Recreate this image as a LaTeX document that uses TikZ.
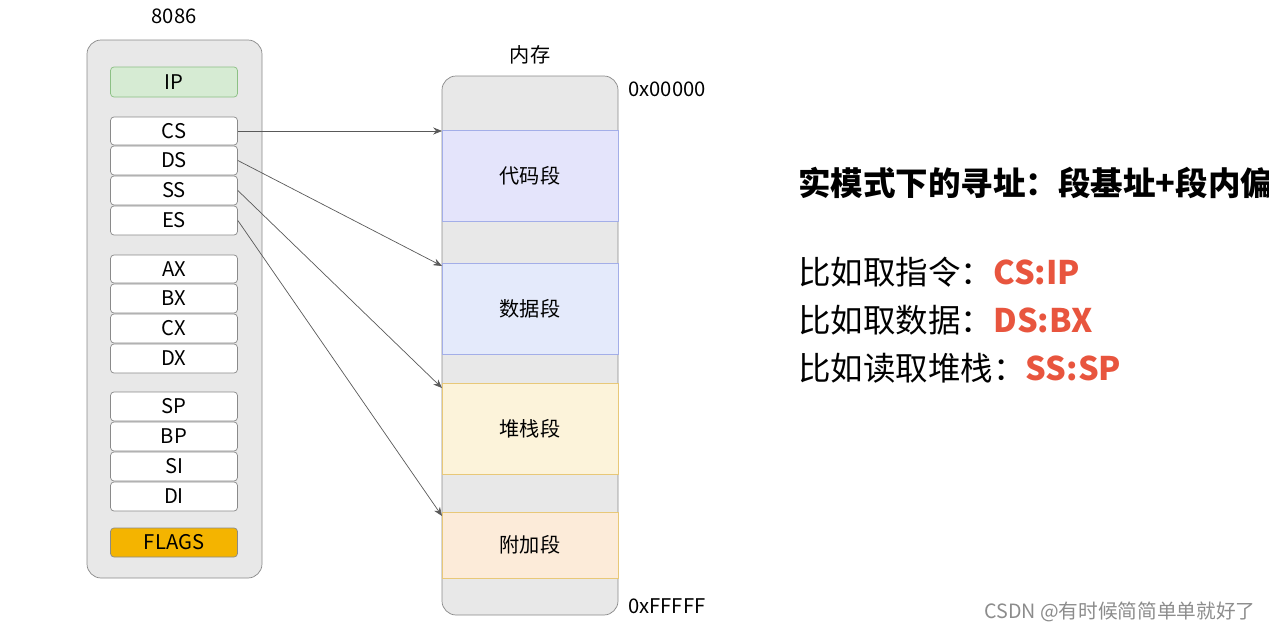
\documentclass[tikz,border=0pt]{standalone}
\usepackage{fontspec}
\setmainfont{Noto Sans CJK SC}
\usetikzlibrary{arrows.meta}
\definecolor{boxgray}{HTML}{E8E8E8}
\definecolor{linegray}{HTML}{8A8A8A}
\definecolor{ipgreen}{HTML}{D6EBD3}
\definecolor{ipline}{HTML}{8CC084}
\definecolor{flagorange}{HTML}{F4B400}
\definecolor{codefill}{HTML}{E4E4FB}
\definecolor{datafill}{HTML}{E4EAFB}
\definecolor{segblue}{HTML}{A3AEE8}
\definecolor{stackfill}{HTML}{FCF3DA}
\definecolor{extrafill}{HTML}{FCEBD9}
\definecolor{segyellow}{HTML}{E8C878}
\definecolor{hired}{HTML}{E8553E}
\newcommand{\regnode}[3] {\node at (174,#1) (#2) [reg, minimum height=#3*0.02cm] {#2};}
\newcommand{\segnode}[5] {\node at (530,#1) (#2) [seg, minimum height=#3*0.02cm, fill=#4, draw=#5] {#2};}
\newcommand{\segarrow}[2] {\draw [link] (#1.east) -- (#2);}

\begin{document}
\begin{tikzpicture}[x=0.02cm, y=-0.02cm, font=\fontsize{11.5}{14}\selectfont,
  reg/.style={draw=linegray, fill=white, rounded corners=2pt, minimum width=127*0.02cm, inner sep=0pt},
  seg/.style={minimum width=176*0.02cm, inner sep=0pt},
  side/.style={anchor=west, inner sep=0pt, font=\fontsize{18.5}{22}\selectfont},
  link/.style={-{Stealth[length=5pt, width=4pt]}, draw=black!65}]
\useasboundingbox (0,0) rectangle (1269,632);

\node at (174,16) (cpu) {8086};
\draw [draw=linegray, fill=boxgray, rounded corners=8pt] (87,40) rectangle (262,578);
\node at (174,82) (IP) [reg, minimum height=30*0.02cm, fill=ipgreen, draw=ipline] {IP};
\regnode {131}{CS}{28};
\regnode {160.5}{DS}{29};
\regnode {190.5}{SS}{29};
\regnode {220.5}{ES}{29};
\regnode {269}{AX}{28};
\regnode {298.5}{BX}{29};
\regnode {328.5}{CX}{29};
\regnode {358.5}{DX}{29};
\regnode {406.5}{SP}{29};
\regnode {436.5}{BP}{29};
\regnode {466.5}{SI}{29};
\regnode {496.5}{DI}{29};
\node at (174,542.5) (FLAGS) [reg, minimum height=29*0.02cm, fill=flagorange] {FLAGS};

\node at (530,55) (mem) {内存};
\draw [draw=linegray, fill=boxgray, rounded corners=8pt] (442,76) rectangle (618,615);
\segnode {175.5}{代码段}{91}{codefill}{segblue};
\segnode {308.5}{数据段}{91}{datafill}{segblue};
\segnode {428.5}{堆栈段}{91}{stackfill}{segyellow};
\segnode {545}{附加段}{66}{extrafill}{segyellow};
\node at (628,89) (top) [anchor=west, inner sep=0pt] {0x00000};
\node at (628,606) (bottom) [anchor=west, inner sep=0pt] {0xFFFFF};

\coordinate (csin) at (442,131);
\coordinate (dsin) at (442,266);
\coordinate (ssin) at (442,388);
\coordinate (esin) at (442,516);
\segarrow{CS}{csin};
\segarrow{DS}{dsin};
\segarrow{SS}{ssin};
\segarrow{ES}{esin};

\node at (798,183) (title) [side, font=\fontsize{18.5}{22}\selectfont\bfseries] {实模式下的寻址：段基址+段内偏移};
\node at (798,272) (ex1) [side] {比如取指令：\textcolor{hired}{\bfseries CS:IP}};
\node at (798,320) (ex2) [side] {比如取数据：\textcolor{hired}{\bfseries DS:BX}};
\node at (798,368) (ex3) [side] {比如读取堆栈：\textcolor{hired}{\bfseries SS:SP}};
\node at (1256,612) (mark) [anchor=east, inner sep=0pt, text=black!45, font=\fontsize{11.2}{13}\selectfont] {CSDN @有时候简简单单就好了};
\end{tikzpicture}
\end{document}
